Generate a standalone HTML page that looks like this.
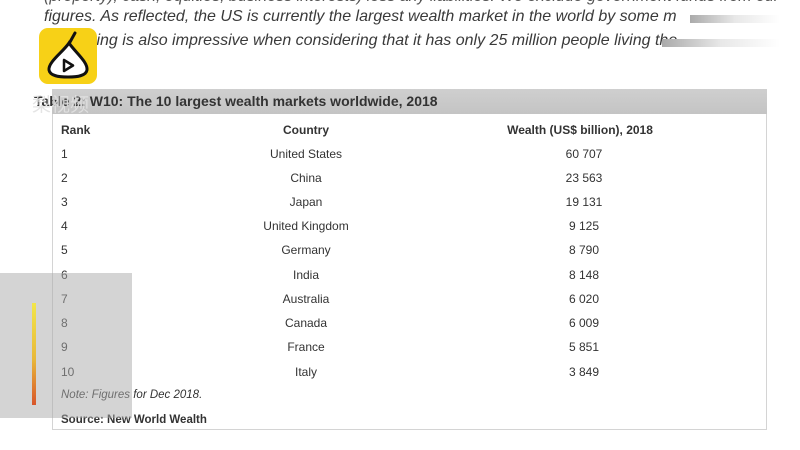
<!DOCTYPE html>
<html><head><meta charset="utf-8"><style>
*{margin:0;padding:0}
body{width:800px;height:450px;overflow:hidden;background:#fff;position:relative;font-family:"Liberation Sans",Arial,sans-serif;color:#333}
.t{position:absolute;white-space:nowrap}
.it{font-style:italic;font-size:16px;color:#3a3a3a}
.box{position:absolute;left:52px;top:89px;width:713px;height:340px;border:1px solid #d4d4d4;border-top:none}
.hd{position:absolute;left:52px;top:89px;width:715px;height:25px;background:linear-gradient(#cfcfcf,#c4c4c4)}
.r{position:absolute;font-size:12px;color:#333;white-space:nowrap}
.c{transform:translateX(-50%)}
</style></head><body>
<div class="t it" style="left:44px;top:-12px;color:#555">(property), cash, equities, business interests) less any liabilities. We exclude government funds from our</div>
<div class="t it" style="left:44px;top:8px">figures. As reflected, the US is currently the largest wealth market in the world by some m</div>
<div style="position:absolute;left:690px;top:15px;width:90px;height:8px;background:linear-gradient(90deg,#aaa,#e8e8e8,#fff)"></div>
<div class="t it" style="left:44px;top:32px">Its ranking is also impressive when considering that it has only 25 million people living the</div>
<div style="position:absolute;left:662px;top:39px;width:118px;height:8px;background:linear-gradient(90deg,#aaa,#e8e8e8,#fff)"></div>
<div style="position:absolute;left:39px;top:28px;width:58px;height:56px;background:#f7d117;border-radius:9px"></div>
<svg style="position:absolute;left:39px;top:28px" width="58" height="56"><path d="M36 5 L31 14" stroke="#111" stroke-width="3" stroke-linecap="round"/><path d="M30 15 C24 24 9 34 10 42 C11 48 20 49 29 49 C38 49 47 48 48 42 C49 34 36 24 30 15Z" fill="#fff" stroke="#111" stroke-width="3"/><path d="M25 32 L25 43 L34 37.5Z" fill="none" stroke="#111" stroke-width="2.5" stroke-linejoin="round"/></svg>
<div class="box"></div>
<div class="hd"></div>
<div class="t" style="left:34px;top:93px;font-size:14px;font-weight:bold;color:#333">Table 2: W10: The 10 largest wealth markets worldwide, 2018</div>
<div class="t" style="left:32px;top:90px;font-size:19px;color:rgba(225,225,225,.9);font-family:'Noto Sans CJK SC',sans-serif">梨视频</div>
<div class="r" style="left:61px;top:123px;font-weight:bold">Rank</div>
<div class="r c" style="left:306px;top:123px;font-weight:bold">Country</div>
<div class="r c" style="left:580px;top:123px;font-weight:bold">Wealth (US$ billion), 2018</div>
<div class="r" style="left:61px;top:147px">1</div><div class="r c" style="left:306px;top:147px">United States</div><div class="r c" style="left:584px;top:147px">60 707</div>
<div class="r" style="left:61px;top:171px">2</div><div class="r c" style="left:306px;top:171px">China</div><div class="r c" style="left:584px;top:171px">23 563</div>
<div class="r" style="left:61px;top:195px">3</div><div class="r c" style="left:306px;top:195px">Japan</div><div class="r c" style="left:584px;top:195px">19 131</div>
<div class="r" style="left:61px;top:219px">4</div><div class="r c" style="left:306px;top:219px">United Kingdom</div><div class="r c" style="left:584px;top:219px">9 125</div>
<div class="r" style="left:61px;top:243px">5</div><div class="r c" style="left:306px;top:243px">Germany</div><div class="r c" style="left:584px;top:243px">8 790</div>
<div class="r" style="left:61px;top:268px">6</div><div class="r c" style="left:306px;top:268px">India</div><div class="r c" style="left:584px;top:268px">8 148</div>
<div class="r" style="left:61px;top:292px">7</div><div class="r c" style="left:306px;top:292px">Australia</div><div class="r c" style="left:584px;top:292px">6 020</div>
<div class="r" style="left:61px;top:316px">8</div><div class="r c" style="left:306px;top:316px">Canada</div><div class="r c" style="left:584px;top:316px">6 009</div>
<div class="r" style="left:61px;top:340px">9</div><div class="r c" style="left:306px;top:340px">France</div><div class="r c" style="left:584px;top:340px">5 851</div>
<div class="r" style="left:61px;top:365px">10</div><div class="r c" style="left:306px;top:365px">Italy</div><div class="r c" style="left:584px;top:365px">3 849</div>
<div class="r" style="left:61px;top:389px;font-style:italic;font-size:11.5px">Note: Figures for Dec 2018.</div>
<div class="r" style="left:61px;top:414px;font-weight:bold;font-size:11.5px">Source: New World Wealth</div>
<div style="position:absolute;left:0;top:273px;width:132px;height:145px;background:rgba(170,170,170,.5)"></div>
<div style="position:absolute;left:32px;top:303px;width:4px;height:102px;background:linear-gradient(#f2e64a,#e8b83a 55%,#d8552a)"></div>
</body></html>
